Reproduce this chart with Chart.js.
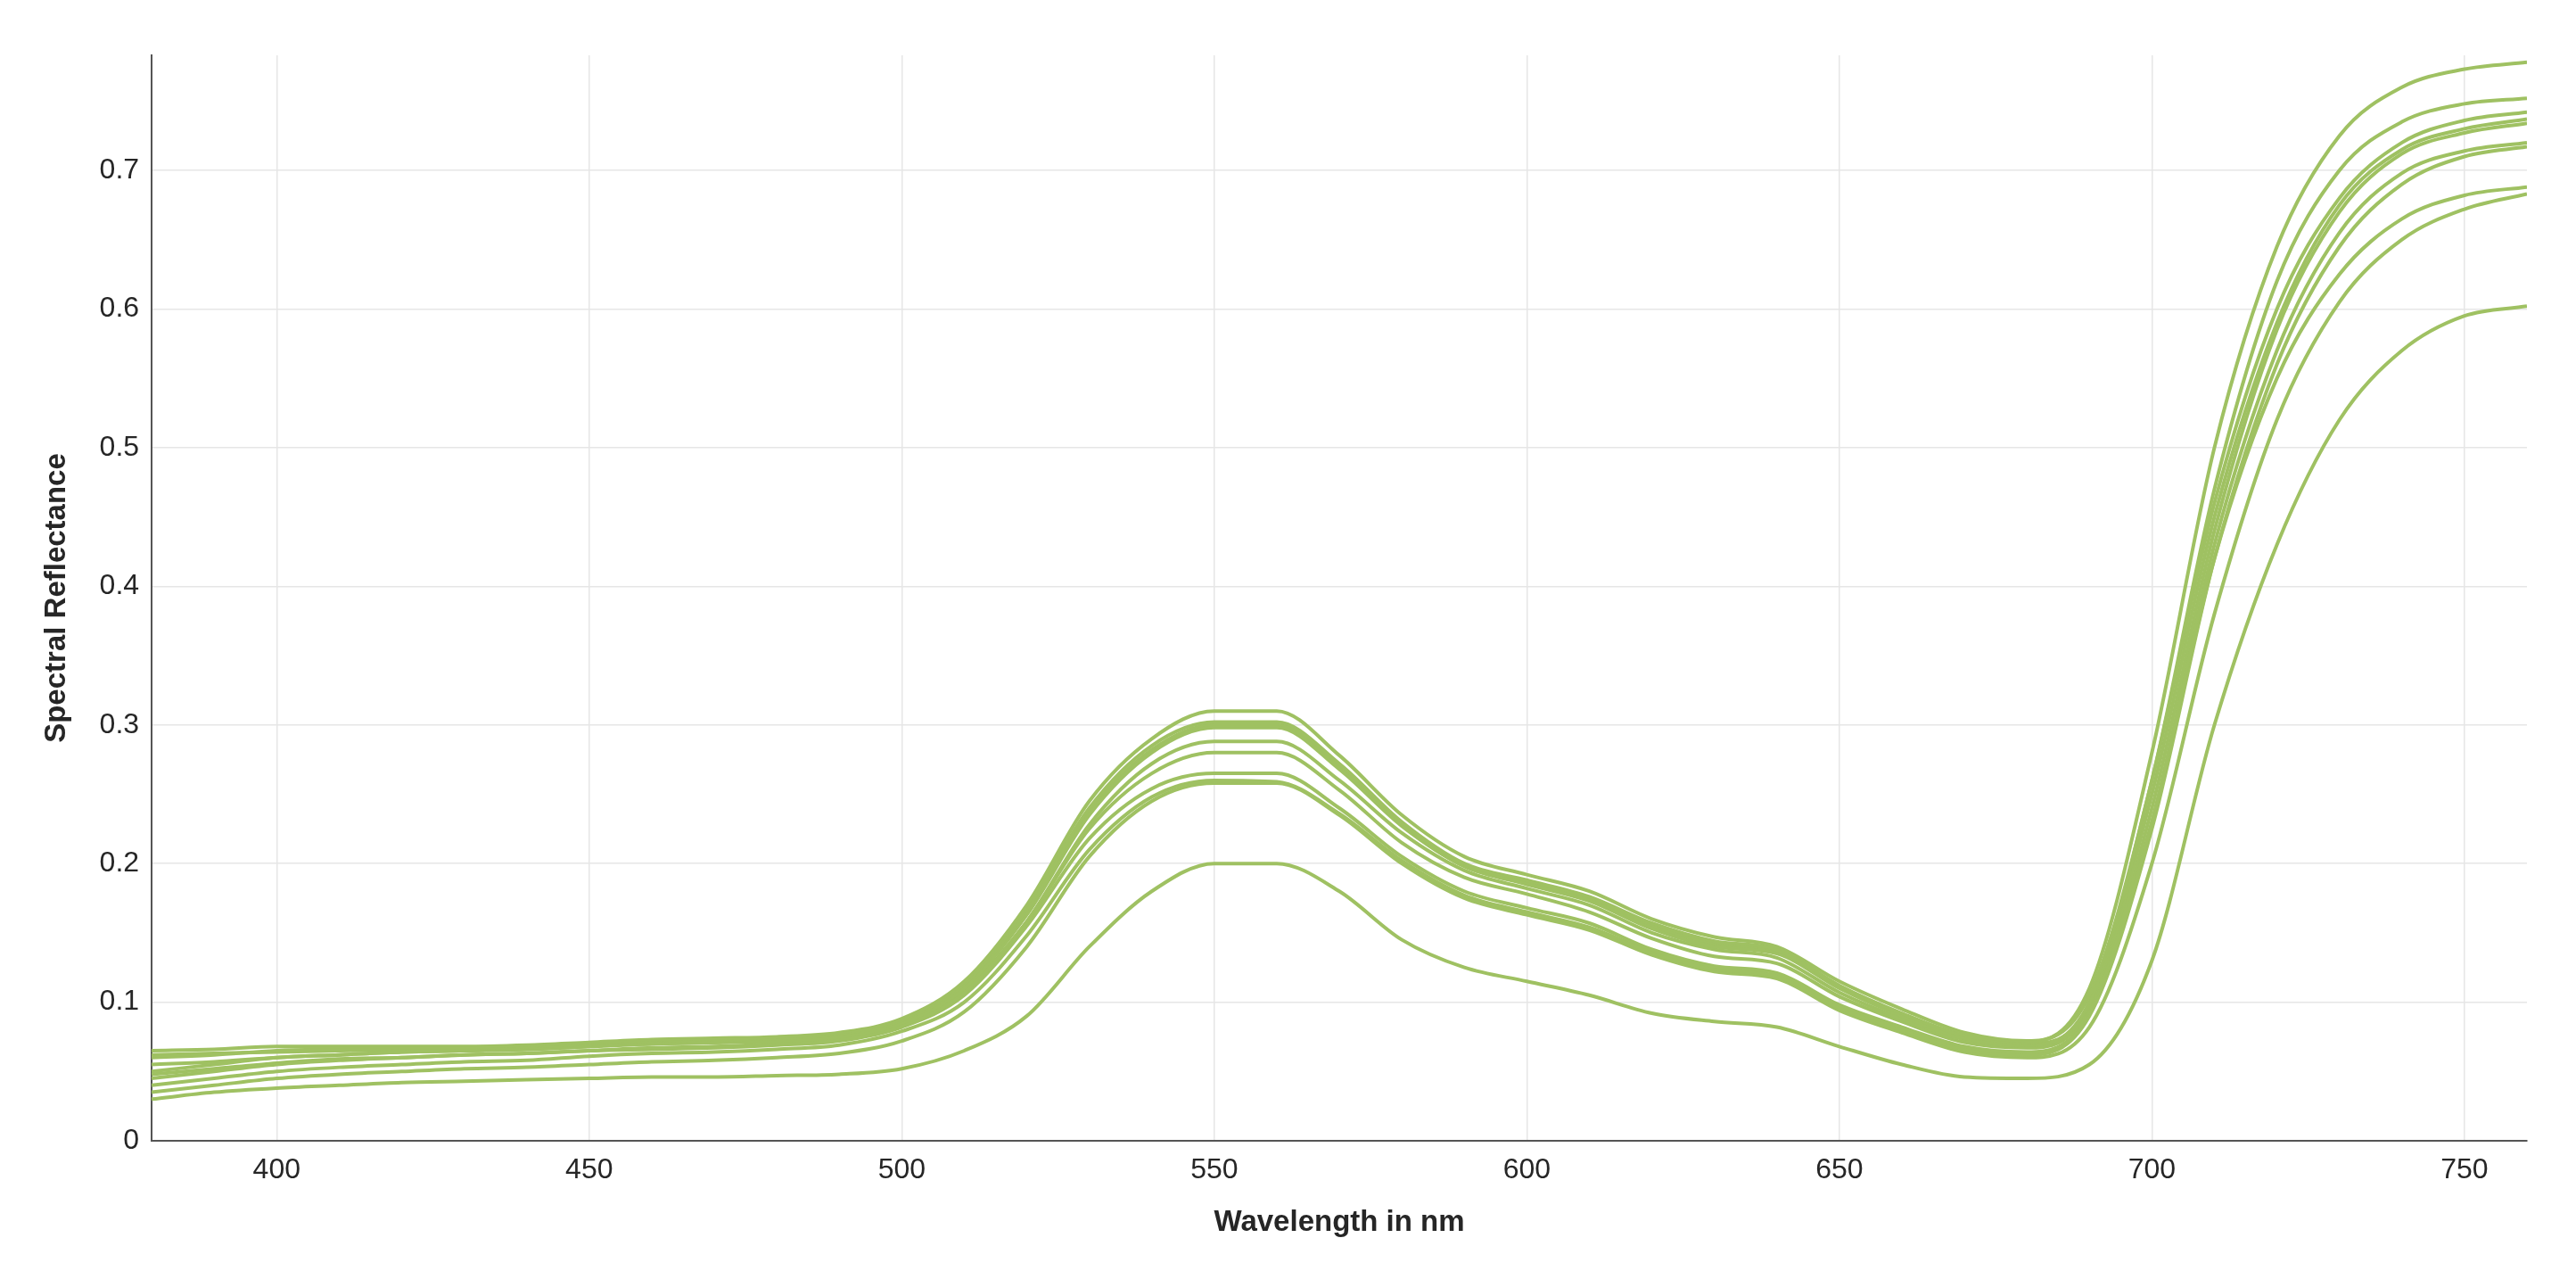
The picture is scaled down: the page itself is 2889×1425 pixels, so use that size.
<!DOCTYPE html>
<html>
<head>
<meta charset="utf-8">
<script src="https://cdn.jsdelivr.net/npm/chart.js@4"></script>
<style>
  html, body { margin: 0; padding: 0; background: #fff; }
  #wrap { width: 2889px; height: 1425px; }
</style>
</head>
<body>
<div id="wrap"><canvas id="chart"></canvas></div>
<script>
// wavelengths (nm), one sample every 10 nm
const wavelengths = [380,390,400,410,420,430,440,450,460,470,480,490,500,510,520,530,540,550,560,570,580,590,600,610,620,630,640,650,660,670,680,690,700,710,720,730,740,750,760];

// reflectance spectra
const s1 = [0.065,0.066,0.068,0.068,0.068,0.068,0.069,0.071,0.073,0.074,0.075,0.078,0.088,0.115,0.17,0.245,0.29,0.31,0.31,0.278,0.235,0.205,0.192,0.18,0.16,0.147,0.14,0.115,0.095,0.078,0.072,0.105,0.26,0.47,0.62,0.7,0.735,0.748,0.752];
const s2 = [0.06,0.062,0.065,0.066,0.067,0.067,0.068,0.07,0.072,0.073,0.074,0.077,0.087,0.113,0.167,0.24,0.285,0.302,0.302,0.272,0.23,0.2,0.188,0.176,0.157,0.144,0.138,0.112,0.092,0.076,0.071,0.11,0.28,0.5,0.645,0.725,0.76,0.773,0.778];
const s3 = [0.05,0.055,0.06,0.062,0.064,0.065,0.066,0.068,0.07,0.071,0.072,0.075,0.085,0.11,0.163,0.235,0.28,0.298,0.298,0.268,0.227,0.198,0.185,0.173,0.153,0.14,0.135,0.11,0.09,0.074,0.069,0.1,0.26,0.46,0.6,0.68,0.72,0.736,0.742];
const s4 = [0.045,0.05,0.055,0.058,0.06,0.062,0.063,0.065,0.067,0.068,0.07,0.073,0.083,0.107,0.158,0.228,0.272,0.288,0.288,0.26,0.222,0.195,0.182,0.17,0.15,0.138,0.132,0.107,0.088,0.073,0.068,0.098,0.25,0.45,0.59,0.675,0.715,0.73,0.737];
const s5 = [0.062,0.063,0.064,0.065,0.066,0.067,0.067,0.069,0.07,0.071,0.072,0.075,0.084,0.108,0.158,0.225,0.265,0.28,0.28,0.253,0.215,0.19,0.178,0.165,0.146,0.133,0.128,0.104,0.086,0.071,0.067,0.095,0.24,0.44,0.585,0.67,0.712,0.727,0.734];
const s6 = [0.048,0.052,0.056,0.059,0.06,0.062,0.063,0.065,0.066,0.067,0.069,0.072,0.082,0.105,0.155,0.218,0.254,0.265,0.265,0.24,0.205,0.18,0.168,0.157,0.138,0.126,0.121,0.098,0.082,0.068,0.064,0.092,0.23,0.43,0.57,0.655,0.698,0.714,0.72];
const s7 = [0.04,0.045,0.05,0.053,0.055,0.057,0.058,0.061,0.063,0.064,0.066,0.069,0.079,0.1,0.148,0.21,0.248,0.26,0.259,0.236,0.202,0.177,0.165,0.154,0.136,0.124,0.119,0.096,0.08,0.066,0.062,0.09,0.225,0.42,0.56,0.645,0.69,0.71,0.717];
const s8 = [0.055,0.057,0.06,0.062,0.064,0.065,0.066,0.068,0.07,0.071,0.073,0.076,0.086,0.112,0.165,0.237,0.282,0.3,0.3,0.27,0.228,0.198,0.186,0.174,0.155,0.142,0.136,0.111,0.091,0.075,0.07,0.095,0.23,0.42,0.55,0.625,0.665,0.682,0.688];
const s9 = [0.035,0.04,0.045,0.048,0.05,0.052,0.053,0.055,0.057,0.058,0.06,0.063,0.072,0.093,0.14,0.205,0.245,0.258,0.258,0.235,0.2,0.175,0.163,0.152,0.134,0.122,0.117,0.094,0.078,0.064,0.06,0.082,0.2,0.38,0.52,0.605,0.65,0.672,0.683];
const s10 = [0.03,0.035,0.038,0.04,0.042,0.043,0.044,0.045,0.046,0.046,0.047,0.048,0.052,0.065,0.09,0.14,0.18,0.2,0.2,0.18,0.145,0.125,0.115,0.105,0.092,0.086,0.082,0.068,0.055,0.046,0.045,0.055,0.13,0.3,0.43,0.52,0.57,0.595,0.602];

const spectra = [s1, s2, s3, s4, s5, s6, s7, s8, s9, s10];
const xTicks = [400, 450, 500, 550, 600, 650, 700, 750];
const yTicks = [0, 0.1, 0.2, 0.3, 0.4, 0.5, 0.6, 0.7];

const lineColor = '#9fc162';
const font = 'Arial, "Liberation Sans", sans-serif';

new Chart(document.getElementById('chart'), {
  type: 'line',
  data: {
    datasets: spectra.map(s => ({
      data: s.map((v, i) => ({ x: wavelengths[i], y: v })),
      borderColor: lineColor,
      borderWidth: 4,
      pointRadius: 0,
      fill: false,
      tension: 0.4,
      cubicInterpolationMode: 'monotone'
    }))
  },
  options: {
    responsive: true,
    maintainAspectRatio: false,
    animation: false,
    layout: { padding: { top: 62, right: 55, left: 40, bottom: 30 } },
    plugins: { legend: { display: false }, tooltip: { enabled: false } },
    scales: {
      x: {
        type: 'linear', min: 380, max: 760,
        afterBuildTicks: ax => { ax.ticks = xTicks.map(v => ({ value: v })); },
        grid: { color: '#e6e6e6', lineWidth: 1.5, drawTicks: false },
        border: { color: '#555', width: 2 },
        ticks: { color: '#262626', font: { family: font, size: 32 }, padding: 14 },
        title: { display: true, text: 'Wavelength in nm', color: '#262626', font: { family: font, size: 33, weight: 'bold' }, padding: { top: 6 } }
      },
      y: {
        min: 0, max: 0.783,
        afterBuildTicks: ax => { ax.ticks = yTicks.map(v => ({ value: v })); },
        grid: { color: '#e6e6e6', lineWidth: 1.5, drawTicks: false },
        border: { color: '#555', width: 2 },
        ticks: { color: '#262626', font: { family: font, size: 32 }, padding: 14, callback: v => String(Math.round(v * 10) / 10) },
        title: { display: true, text: 'Spectral Reflectance', color: '#262626', font: { family: font, size: 33, weight: 'bold' }, padding: { bottom: 14 } }
      }
    }
  }
});
</script>
</body>
</html>
